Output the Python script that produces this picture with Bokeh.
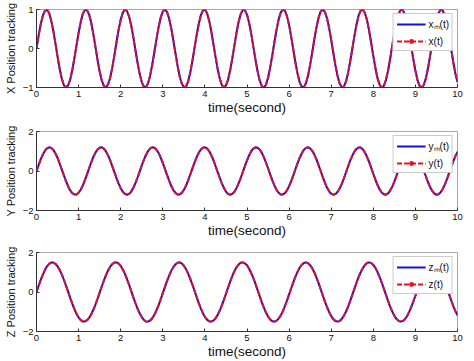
from bokeh.plotting import figure
from bokeh.layouts import column
from bokeh.models import Range1d, FixedTicker, Legend, LegendItem
from bokeh.embed import file_html
from bokeh.resources import INLINE

x_pos = [0.00,0.33,0.62,0.84,0.97,0.99,0.91,0.71,0.45,0.13,
         -0.21,-0.52,-0.77,-0.94,-1.00,-0.95,-0.80,-0.55,-0.25,0.08,
         0.40,0.68,0.89,0.99,0.98,0.87,0.66,0.37,0.04,-0.29,
         -0.59,-0.82,-0.96,-1.00,-0.92,-0.75,-0.49,-0.17,0.16,0.48,
         0.74,0.92,1.00,0.96,0.82,0.59,0.29,-0.04,-0.36,-0.65,
         -0.86,-0.98,-0.99,-0.89,
         -0.69,-0.41,-0.09,0.24,0.55,0.79,0.95,1.00,0.94,0.77,
         0.52,0.21,-0.12,-0.44,-0.71,-0.90,-0.99,-0.98,-0.85,-0.63,
         -0.34,-0.01,0.32,0.61,0.84,0.97,1.00,0.91,0.72,0.45,
         0.13,-0.20,-0.51,-0.76,-0.93,-1.00,-0.95,-0.80,-0.56,-0.26,
         0.07,0.40,0.68,0.88,0.99,0.98,0.87,0.66,0.38,0.05,
         -0.28,-0.58,-0.81,-0.96,-1.00,-0.93,-0.75,-0.49,-0.18,0.16,
         0.47,0.74,0.92,1.00,0.97,0.83,0.60,0.30,-0.03,-0.36,
         -0.64,-0.86,-0.98,-0.99,-0.89,-0.69,-0.42,-0.10,0.24,0.54,
         0.79,0.95,1.00,0.94,0.78,
         0.53,0.22,-0.11,-0.43,-0.70,-0.90,-0.99,-0.98,-0.85,-0.63,-0.34,-0.02,
         0.31,0.61,0.84,0.97,1.00,0.91,0.73,0.46,0.14,-0.19,-0.50,-0.76,-0.93,-1.00,-0.96,-0.81,-0.57,-0.27,
         0.07,0.39,0.67,0.88,0.99,0.99,0.87,0.67,0.39,0.06,-0.27,-0.57,-0.81,-0.96,-1.00,-0.93,-0.76,-0.50,-0.19,
         0.15,0.46,0.73,0.91,1.00,0.97,0.83,0.60,0.31,-0.02,-0.35,-0.64,-0.86]

y_pos = [0.00,0.30,0.59,0.83,1.03,1.15,1.20,1.17,1.07,0.89,0.66,0.38,0.08,-0.22,-0.51,-0.77,-0.98,-1.12,
         -1.19,-1.19,-1.10,-0.95,-0.73,-0.46,-0.17,0.14,0.44,0.71,
         0.93,1.09,1.18,1.20,1.13,0.99,0.79,0.54,0.25,-0.06,
         -0.36,-0.64,-0.87,-1.05,-1.16,-1.20,-1.16,-1.04,-0.85,-0.61,
         -0.33,-0.03,0.28,0.56,0.81,1.01,1.14,1.20,1.18,1.08,
         0.91,0.68,0.41,0.11,-0.20,-0.49,-0.75,-0.96,-1.11,-1.19,
         -1.19,-1.11,-0.96,-0.75,-0.49,-0.19,0.11,0.41,0.68,0.91,
         1.08,1.18,1.20,1.14,1.01,0.81,0.56,0.27,-0.03,-0.33,
         -0.61,-0.85,-1.04,-1.16,-1.20,-1.16,-1.05,-0.87,-0.63,-0.36,
         -0.05,0.25,0.54,0.79,1.00,1.13,1.20,1.18,1.09,0.93,
         0.70,0.43,0.14,-0.17,-0.46,-0.73,-0.95,-1.10,-1.19,-1.19,
         -1.12,-0.98,-0.77,-0.51,-0.22,0.09,0.39,0.66,0.89,1.07,
         1.17,1.20,1.15,1.02,0.83,0.59,0.30,0.00,-0.31,-0.59,
         -0.84,-1.03,-1.15,-1.20,-1.17,-1.06,-0.89,-0.66,-0.38,-0.08,
         0.23,0.52,0.77,0.98,1.12,1.19,1.19,1.10,0.94,0.72,
         0.46,0.16,-0.14,-0.44,-0.71,-0.93,-1.09,-1.18,-1.20,-1.13,
         -0.99,-0.79,-0.54,-0.25,0.06,0.36,0.64,0.88,1.05,1.17,
         1.20,1.16,1.04,0.85,0.61,0.33,0.02,-0.28,-0.57,-0.82,
         -1.01,-1.14,-1.20,-1.18,-1.08,-0.91,-0.68,-0.41,-0.11,0.20,
         0.49,0.75,0.97]

z_pos = [0.00,0.31,0.61,0.88,1.11,1.30,1.42,1.49,1.49,1.43,
         1.30,1.12,0.89,0.62,0.33,0.02,-0.30,-0.59,-0.87,-1.10,
         -1.29,-1.42,-1.49,-1.49,-1.43,-1.31,-1.13,-0.90,-0.64,-0.34,
         -0.03,0.28,0.58,0.85,1.09,1.28,1.41,1.49,1.50,1.44,
         1.32,1.14,0.92,
         0.65,0.36,0.05,-0.27,-0.57,-0.84,-1.08,-1.27,-1.41,-1.49,
         -1.50,-1.44,-1.33,-1.15,-0.93,-0.66,-0.37,-0.06,0.25,0.55,
         0.83,1.07,1.26,1.40,1.48,1.50,1.45,1.33,1.16,0.94,
         0.68,0.39,0.08,-0.23,-0.54,-0.82,-1.06,-1.26,-1.40,-1.48,
         -1.50,-1.45,-1.34,-1.17,-0.95,-0.69,-0.40,-0.09,0.22,0.52,
         0.80,1.05,1.25,1.39,1.48,1.50,1.45,1.35,1.18,0.96,
         0.71,0.42,0.11,-0.20,-0.51,-0.79,-1.04,-1.24,-1.39,-1.48,
         -1.50,-1.46,-1.35,-1.19,-0.98,-0.72,-0.43,-0.12,0.19,0.49,
         0.78,1.02,1.23,1.38,1.47,1.50,1.46,1.36,1.20,0.99,
         0.73,0.45,0.14,-0.17,-0.48,-0.76,-1.01,-1.22,-1.37,-1.47,
         -1.50,-1.47,-1.37,-1.21,-1.00,-0.75,-0.46,-0.15,0.16,0.46,
         0.75,1.00,1.21,1.37,1.47,1.50,1.47,1.37,1.22,1.01,
         0.76,0.48,0.17,-0.14,-0.45,-0.74,-0.99,-1.20,-1.36,-1.46,
         -1.50,-1.47,-1.38,-1.23,-1.02,-0.77,-0.49,-0.19,0.13,0.43,
         0.72,0.98,1.19,1.36,1.46,1.50,1.47,1.39,1.24,1.03,
         0.79,0.50,0.20,-0.11,-0.42,-0.71,-0.97,-1.18]

STEP = 0.05
x_ticks = [0, 1, 2, 3, 4, 5, 6, 7, 8, 9, 10]
y_ticks_x = [-1, 0, 1]
y_ticks_yz = [-2, 0, 2]
x_label = "time(second)"

FONT = "Liberation Sans"


def make(ylabel, vals, yr, yticks, names, frame_h, top, bot):
    t = [i * STEP for i in range(len(vals))]
    p = figure(frame_width=421, frame_height=frame_h,
               x_range=Range1d(0, 10), y_range=Range1d(*yr),
               output_backend="svg", toolbar_location=None,
               min_border_left=36, min_border_right=10,
               min_border_top=top, min_border_bottom=bot)
    p.grid.visible = False
    p.outline_line_color = "#a8a8a8"
    for ax in (p.xaxis[0], p.yaxis[0]):
        ax.major_tick_in = 3
        ax.major_tick_out = 0
        ax.minor_tick_line_color = None
        ax.axis_line_color = "#333333"
        ax.major_tick_line_color = "#333333"
        ax.major_label_text_font = FONT
        ax.major_label_text_font_size = "9.5px"
        ax.major_label_text_color = "#111111"
        ax.axis_label_text_font = FONT
        ax.axis_label_text_font_style = "normal"
        ax.axis_label_text_color = "#111111"
    p.xaxis.ticker = FixedTicker(ticks=x_ticks)
    p.yaxis.ticker = FixedTicker(ticks=yticks)
    p.xaxis.major_label_standoff = 3
    p.xaxis.axis_label = x_label
    p.xaxis.axis_label_text_font_size = "13.5px"
    p.xaxis.axis_label_standoff = 0
    p.yaxis.major_label_standoff = 3
    p.yaxis.axis_label = ylabel
    p.yaxis.axis_label_text_font_size = "11px"
    p.yaxis.axis_label_standoff = 3
    r1 = p.line(t, vals, line_color="#1010e0", line_width=2)
    r2 = p.line(t, vals, line_color="#e8101e", line_width=2, line_dash="5 2")
    r3 = p.scatter(t, vals, marker="circle", size=0, fill_color="#e8101e", line_color=None)
    leg = Legend(items=[LegendItem(label=names[0], renderers=[r1]),
                        LegendItem(label=names[1], renderers=[r2, r3])],
                 location="top_right", margin=4, padding=3, spacing=4,
                 glyph_width=29, glyph_height=12, label_height=12,
                 label_text_font=FONT, label_text_font_size="10px",
                 label_text_color="#111111",
                 label_standoff=3, border_line_color="#999999",
                 background_fill_alpha=1)
    p.add_layout(leg)
    return p


p1 = make("X Position tracking", x_pos, (-1, 1), y_ticks_x, ["x\u2098(t)", "x(t)"], 78, 9, 31)
p2 = make("Y Position tracking", y_pos, (-2, 2), y_ticks_yz, ["y\u2098(t)", "y(t)"], 79, 13, 30)
p3 = make("Z Position tracking", z_pos, (-2, 2), y_ticks_yz, ["z\u2098(t)", "z(t)"], 79, 12, 29)
lay = column(p1, p2, p3)
open("out.html", "w").write(file_html(lay, INLINE))
